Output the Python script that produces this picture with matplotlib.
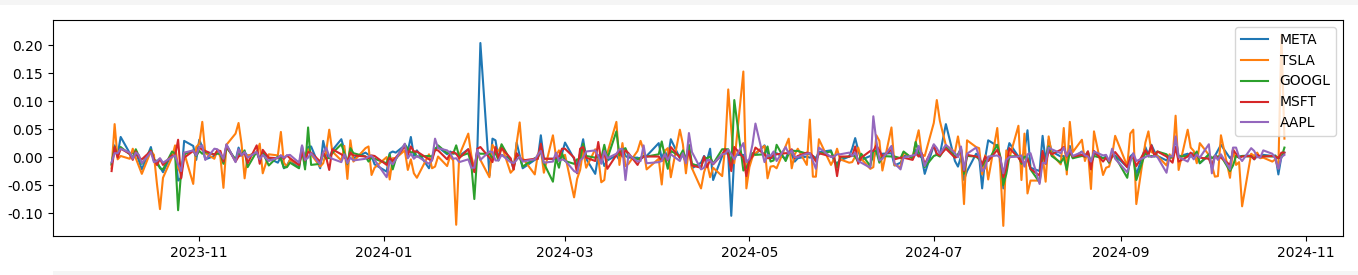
import matplotlib
matplotlib.use("Agg")
import matplotlib.pyplot as plt
import matplotlib.ticker as mticker
import matplotlib.patches as mpatches
import pandas as pd

tickers = ["META", "TSLA", "GOOGL", "MSFT", "AAPL"]
start_date = "2023-10-03"
end_date = "2024-10-25"
holidays = ["2023-11-23", "2023-12-25", "2024-01-01", "2024-01-15", "2024-02-19",
            "2024-03-29", "2024-05-27", "2024-06-19", "2024-07-04", "2024-09-02"]

meta = [
    -0.014, 0.021, 0.004, 0.036, 0.007, 0.007, 0.009, -0.006, -0.022, 0.018, -0.007, -0.013, -0.018, -0.027, 0.007, 0.010, -0.042, -0.037, 0.029, 0.020, -0.005,
    0.031, 0.018, -0.004, 0.002, 0.009, 0.006, -0.010, 0.021, -0.006, 0.017, 0.003, 0.009, 0.002, 0.008, -0.005, 0.009, -0.002, -0.010, 0.001, -0.020, -0.015,
    -0.005, -0.019, 0.020, -0.016, 0.018, 0.019, -0.020, 0.029, 0.006, -0.002, 0.012, 0.032, 0.013, -0.016, 0.015, -0.002, 0.008, 0.004, 0.002, -0.013,
    -0.026, 0.007, 0.010, 0.008, 0.021, 0.011, 0.036, 0.002, 0.012, -0.020, -0.003, 0.015, 0.018, 0.005, 0.010, 0.007, 0.006, 0.002, 0.014, -0.004, -0.025,
    0.013, 0.204, -0.033, 0.033, 0.030, -0.002, 0.004, -0.003, -0.022, 0.026, 0.003, -0.020, -0.005, -0.003, 0.039, -0.003, -0.003, -0.003, -0.006, 0.006,
    0.026, -0.003, -0.016, 0.007, 0.032, -0.003, -0.030, 0.003, 0.002, -0.016, -0.006, 0.003, -0.005, 0.016, 0.002, -0.001, -0.001, -0.004, 0.001, 0.002,
    0.025, -0.003, 0.012, -0.003, 0.032, -0.002, 0.003, -0.010, 0.017, -0.020, -0.010, 0.002, -0.006, 0.015, -0.041, 0.002, 0.014, 0.003, -0.105, 0.004, 0.004, -0.009,
    -0.006, 0.006, 0.005, 0.021, 0.008, -0.002, -0.001, 0.007, -0.003, 0.010, 0.004, -0.008, -0.002, 0.001, -0.001, 0.002, -0.002, 0.009, 0.012, -0.008, -0.011, -0.006,
    0.001, 0.015, 0.034, 0.012, -0.005, 0.002, -0.005, 0.016, -0.004, 0.006, 0.007, -0.015, -0.010, 0.002, 0.001, 0.013, 0.003, -0.001, -0.030,
    0.021, 0.004, 0.004, 0.059, -0.007, -0.017, 0.001, -0.041, -0.025, 0.006, 0.001, -0.056, -0.002, 0.030, 0.020, -0.001, -0.056, 0.002, 0.025, 0.001, -0.005, 0.010,
    0.048, -0.019, -0.025, 0.038, -0.008, 0.031, 0.010, 0.001, 0.002, -0.007, 0.020, -0.002, 0.010, 0.001, 0.010, -0.013, 0.007, -0.002, 0.001, -0.010, 0.002, 0.003,
    -0.018, 0.001, 0.006, -0.032, 0.018, 0.004, 0.022, 0.010, 0.002, -0.006, 0.001, 0.002, 0.035, 0.001, 0.006, 0.002, 0.008, 0.006, -0.011, 0.003,
    -0.019, 0.002, 0.012, 0.022, -0.002, 0.003, 0.002, 0.001, 0.002, 0.003, -0.004, 0.002, 0.001, 0.004, 0.002, 0.003, -0.031, 0.001, 0.008,
]

tsla = [
    -0.020, 0.059, -0.004, 0.002, -0.003, 0.015, -0.002, -0.016, -0.030, 0.011, 0.004, -0.048, -0.093, -0.037, 0.000, 0.021, -0.019, -0.031, 0.008, -0.048, 0.018,
    0.024, 0.063, 0.007, -0.003, 0.013, 0.000, -0.055, 0.022, 0.042, 0.061, 0.023, -0.038, 0.003, 0.006, 0.024, -0.029, 0.005, 0.003, 0.045, -0.010, -0.017,
    -0.005, -0.014, 0.013, 0.003, 0.014, 0.005, -0.017, -0.011, 0.010, 0.049, 0.010, -0.006, 0.020, -0.039, 0.030, -0.008, 0.016, 0.019, -0.032, -0.019,
    0.000, -0.040, -0.002, -0.002, 0.012, -0.023, -0.004, -0.029, -0.037, 0.005, -0.020, -0.017, 0.001, -0.016, 0.002, -0.006, -0.121, 0.003, 0.042, 0.003, -0.022,
    0.008, -0.005, -0.036, 0.022, 0.013, 0.011, 0.021, -0.028, -0.022, 0.025, 0.062, -0.002, -0.031, 0.005, 0.014, -0.028, 0.039, 0.002, 0.012, -0.001,
    0.004, -0.072, -0.039, -0.023, 0.012, -0.019, 0.014, -0.001, -0.045, -0.041, 0.007, 0.063, -0.014, 0.025, -0.016, -0.012, 0.011, 0.029, 0.012, -0.022,
    -0.003, -0.049, 0.011, 0.016, -0.036, 0.049, 0.023, -0.029, 0.017, -0.020, -0.056, -0.027, -0.011, -0.036, -0.019, -0.034, 0.019, 0.121, 0.050, -0.011, 0.153, -0.056,
    -0.018, 0.000, 0.007, 0.020, -0.038, -0.017, -0.016, -0.020, 0.020, 0.033, -0.020, 0.005, 0.015, -0.014, 0.067, -0.035, -0.035, 0.032, -0.014, -0.003, 0.015, -0.004,
    -0.010, -0.009, 0.001, 0.017, -0.003, -0.021, -0.018, 0.039, 0.029, -0.024, 0.053, -0.014, -0.018, 0.008, -0.002, 0.026, 0.048, 0.005, 0.002,
    0.061, 0.102, 0.065, 0.021, 0.009, 0.037, 0.004, -0.084, 0.030, 0.018, 0.016, -0.031, 0.003, -0.040, 0.052, -0.020, -0.123, 0.012, -0.002, 0.056, -0.041, 0.042,
    -0.065, -0.042, -0.042, 0.003, -0.044, 0.037, 0.006, -0.013, 0.052, -0.031, 0.063, 0.009, 0.031, -0.007, 0.010, -0.057, 0.046, -0.032, -0.019, -0.017, 0.003, 0.038,
    -0.016, 0.042, 0.049, -0.084, 0.026, 0.046, 0.009, 0.007, 0.002, -0.015, 0.005, -0.003, 0.074, -0.023, 0.049, 0.017, 0.011, -0.011, 0.025, 0.004,
    -0.014, -0.035, -0.034, 0.039, -0.037, 0.015, -0.014, -0.009, -0.088, 0.006, 0.002, 0.008, -0.002, -0.001, -0.008, -0.004, -0.020, 0.219, 0.033,
]

googl = [
    -0.012, 0.018, 0.002, 0.018, 0.005, -0.001, 0.014, 0.002, -0.012, 0.013, -0.005, -0.007, -0.020, -0.022, 0.010, 0.006, -0.095, -0.026, 0.005, 0.012, 0.002,
    0.011, 0.006, 0.009, 0.005, 0.006, 0.006, -0.012, 0.017, -0.004, 0.006, 0.004, 0.012, -0.018, 0.010, -0.004, 0.008, -0.015, 0.001, -0.004, -0.019, -0.018,
    -0.010, -0.020, 0.013, -0.022, 0.053, -0.014, -0.012, 0.006, -0.003, -0.001, 0.007, 0.023, 0.007, -0.012, 0.016, 0.007, 0.001, -0.008, -0.001, -0.003,
    -0.011, 0.005, -0.022, -0.004, 0.023, 0.015, 0.008, 0.010, 0.001, 0.002, 0.001, 0.013, 0.021, 0.007, 0.008, 0.006, 0.021, 0.001, 0.007, -0.013, -0.075,
    0.008, 0.006, 0.006, -0.002, 0.008, -0.006, 0.023, -0.006, -0.016, 0.002, 0.001, -0.017, -0.002, -0.001, 0.012, -0.011, -0.044, -0.002, -0.019, 0.007,
    -0.007, -0.012, -0.004, -0.005, 0.024, 0.002, -0.001, 0.001, -0.002, 0.022, -0.003, 0.046, 0.003, 0.013, 0.016, 0.002, -0.004, -0.001, 0.002, 0.001,
    0.005, 0.028, 0.002, -0.021, 0.011, 0.002, 0.012, -0.004, 0.022, -0.012, -0.018, -0.001, -0.002, 0.001, -0.012, 0.014, 0.014, 0.014, -0.020, 0.102, -0.024, -0.019,
    -0.007, 0.007, 0.004, 0.005, 0.019, -0.008, -0.006, 0.022, -0.007, 0.006, 0.012, 0.011, 0.011, 0.006, 0.006, -0.001, -0.005, 0.006, 0.010, -0.001, -0.019, -0.001,
    0.001, 0.004, 0.001, -0.009, 0.006, -0.016, 0.012, 0.010, -0.010, 0.002, 0.001, 0.001, -0.002, 0.010, -0.003, 0.027, 0.009, 0.002, -0.018,
    0.002, 0.004, 0.001, 0.019, 0.001, 0.005, 0.015, -0.030, 0.002, 0.001, -0.004, -0.016, -0.006, -0.007, 0.022, 0.001, -0.050, -0.030, 0.001, 0.002, -0.012, 0.001,
    -0.001, -0.022, -0.045, 0.002, -0.006, 0.019, 0.002, -0.010, -0.001, -0.023, 0.010, -0.002, 0.002, 0.001, 0.008, -0.011, 0.002, -0.002, -0.001, -0.010, 0.002, 0.001,
    -0.037, -0.002, -0.001, -0.041, 0.008, 0.001, 0.002, 0.001, 0.010, 0.005, -0.002, 0.001, 0.017, 0.001, 0.002, 0.001, 0.002, 0.010, -0.011, 0.005,
    -0.002, 0.002, 0.001, 0.002, -0.025, -0.015, 0.002, -0.001, 0.002, 0.001, -0.002, 0.002, 0.001, 0.002, 0.001, 0.002, -0.002, -0.001, 0.017,
]

msft = [
    -0.025, 0.018, -0.001, 0.015, 0.006, -0.005, 0.010, -0.001, -0.004, 0.011, -0.004, -0.014, -0.003, -0.014, 0.003, 0.002, 0.031, -0.038, -0.001, 0.011, 0.004,
    0.017, 0.013, 0.011, 0.004, 0.012, 0.011, -0.008, 0.021, -0.008, 0.001, 0.004, 0.008, -0.011, 0.021, -0.012, 0.013, -0.001, -0.002, 0.003, -0.003, 0.003,
    -0.002, -0.014, 0.009, -0.006, 0.009, 0.008, -0.008, 0.008, -0.001, -0.023, 0.014, 0.005, 0.001, -0.008, 0.008, 0.003, 0.001, -0.002, 0.003, 0.002,
    -0.014, -0.001, -0.007, -0.001, 0.019, 0.003, 0.019, 0.010, 0.010, -0.004, -0.006, 0.013, 0.012, -0.004, 0.006, 0.009, 0.006, -0.002, 0.014, -0.003, -0.027,
    0.015, 0.018, -0.001, -0.009, 0.018, -0.002, 0.016, -0.002, -0.022, 0.007, -0.001, -0.006, -0.003, -0.003, 0.024, -0.003, -0.003, -0.001, 0.001, 0.015,
    0.015, -0.001, -0.029, 0.015, 0.018, -0.001, -0.007, 0.027, -0.008, 0.009, -0.021, 0.004, 0.012, 0.001, 0.012, 0.007, -0.014, -0.003, 0.001, 0.001,
    0.001, -0.007, 0.004, -0.006, 0.018, -0.001, 0.005, -0.006, 0.011, -0.015, -0.019, 0.001, -0.018, -0.005, -0.013, 0.005, 0.014, 0.004, -0.025, 0.018, -0.001, -0.034,
    -0.006, 0.001, 0.017, 0.005, -0.002, -0.002, 0.004, 0.005, 0.007, 0.007, 0.014, -0.002, 0.002, 0.008, 0.007, 0.002, -0.008, 0.007, 0.001, 0.001, -0.034, 0.001,
    0.001, 0.002, 0.019, -0.012, -0.001, 0.011, 0.011, 0.021, 0.012, 0.001, 0.013, -0.004, -0.001, -0.001, -0.005, 0.007, 0.001, 0.007, -0.013,
    0.021, 0.006, 0.003, 0.015, -0.001, 0.001, 0.015, -0.025, 0.004, 0.001, -0.001, -0.013, 0.001, -0.007, 0.013, -0.001, -0.036, -0.020, 0.016, -0.001, -0.009, -0.011,
    -0.003, -0.021, -0.033, 0.011, -0.012, 0.011, 0.005, 0.013, 0.018, 0.001, 0.010, 0.001, 0.004, 0.001, 0.010, -0.022, 0.011, -0.008, -0.001, -0.008, 0.001, 0.009,
    -0.018, -0.001, 0.002, -0.016, 0.012, 0.004, 0.021, 0.002, 0.010, 0.001, -0.005, -0.010, 0.018, -0.008, 0.001, 0.008, 0.002, 0.003, -0.001, -0.003,
    -0.017, 0.002, -0.001, -0.001, -0.014, 0.013, 0.006, -0.001, 0.001, 0.002, -0.004, 0.004, 0.001, 0.001, 0.002, 0.001, -0.002, 0.008, 0.008,
]

aapl = [
    -0.009, 0.007, 0.007, 0.015, 0.008, -0.003, 0.008, 0.004, -0.011, 0.009, -0.009, -0.007, -0.002, -0.010, 0.000, 0.003, -0.013, -0.025, 0.008, 0.012, 0.003,
    0.018, 0.021, -0.005, 0.015, 0.014, 0.006, -0.003, 0.023, -0.009, 0.014, 0.003, 0.009, -0.001, 0.009, -0.004, 0.004, -0.007, -0.001, 0.003, -0.001, 0.003,
    0.004, -0.010, 0.021, -0.005, -0.001, 0.007, -0.013, 0.008, 0.017, 0.001, -0.003, -0.009, 0.005, -0.011, -0.001, -0.006, -0.003, 0.001, 0.002, -0.005,
    -0.036, -0.007, -0.013, -0.004, 0.024, -0.002, 0.006, -0.003, 0.002, -0.012, -0.005, 0.033, 0.016, 0.012, 0.007, -0.003, -0.002, -0.009, -0.004, -0.019, -0.019,
    0.013, -0.005, 0.010, 0.009, -0.006, -0.006, 0.004, -0.009, -0.011, -0.005, 0.001, -0.008, -0.004, 0.004, 0.011, -0.010, -0.008, 0.008, -0.007, -0.004,
    -0.006, -0.025, -0.028, -0.006, -0.001, 0.010, 0.012, 0.002, -0.012, 0.011, -0.002, 0.006, 0.014, 0.015, -0.041, 0.005, -0.008, -0.007, 0.021, -0.011,
    -0.009, -0.007, 0.005, -0.005, 0.005, -0.007, 0.007, -0.011, 0.043, 0.009, -0.022, -0.019, -0.005, -0.006, -0.012, 0.005, 0.006, 0.013, 0.005, -0.004, 0.025, -0.009,
    -0.003, 0.022, 0.060, -0.009, 0.004, 0.002, 0.010, -0.007, 0.018, 0.006, 0.012, 0.000, 0.000, 0.006, 0.007, -0.007, -0.021, 0.017, 0.000, 0.001, 0.005, 0.005,
    0.008, 0.002, 0.008, -0.007, -0.010, -0.019, 0.073, 0.029, -0.006, -0.003, 0.020, -0.011, -0.022, -0.001, 0.003, 0.004, 0.020, 0.004, -0.016,
    0.023, 0.016, 0.006, 0.022, 0.007, 0.000, 0.019, -0.023, 0.006, 0.017, 0.001, -0.025, -0.020, 0.001, 0.003, -0.001, -0.029, -0.005, 0.000, 0.001, 0.003, -0.017,
    0.005, 0.007, -0.048, -0.010, -0.011, 0.017, 0.014, 0.007, 0.017, 0.002, 0.014, 0.002, 0.009, 0.003, 0.001, -0.008, 0.010, 0.003, 0.004, -0.007, 0.015, -0.003,
    -0.027, -0.009, 0.007, -0.007, 0.000, 0.003, 0.000, 0.002, 0.000, -0.028, 0.002, 0.001, 0.037, 0.000, -0.008, 0.004, -0.004, 0.005, -0.001, 0.023,
    -0.029, 0.003, -0.005, 0.005, -0.022, 0.017, 0.017, 0.000, -0.007, 0.016, 0.011, 0.000, -0.001, 0.012, 0.006, -0.003, -0.021, 0.000, 0.004,
]

dates = pd.bdate_range(start_date, end_date)
dates = dates[~dates.isin(pd.to_datetime(holidays))]

series = [meta, tsla, googl, msft, aapl]
n = min([len(dates)] + [len(s) for s in series])

fig = plt.figure(figsize=(13.58, 2.75), dpi=100)
# light page strips seen at the top and bottom edges of the reference
fig.patches.append(mpatches.Rectangle((0, 0.982), 1, 0.018, transform=fig.transFigure,
                                      facecolor="#f5f5f5", edgecolor="none", zorder=-1))
fig.patches.append(mpatches.Rectangle((0.039, 0), 0.961, 0.015, transform=fig.transFigure,
                                      facecolor="#f5f5f5", edgecolor="none", zorder=-1))
ax = fig.add_axes([0.039, 0.142, 0.950, 0.785])
for name, vals in zip(tickers, series):
    ax.plot(dates[:n], vals[:n], label=name, linewidth=1.5)
ax.set_ylim(-0.141, 0.245)
ax.yaxis.set_major_locator(mticker.MultipleLocator(0.05))
ax.yaxis.set_major_formatter(mticker.FormatStrFormatter("%.2f"))
ax.legend(loc="upper right")
fig.savefig("out.png", dpi=100)
